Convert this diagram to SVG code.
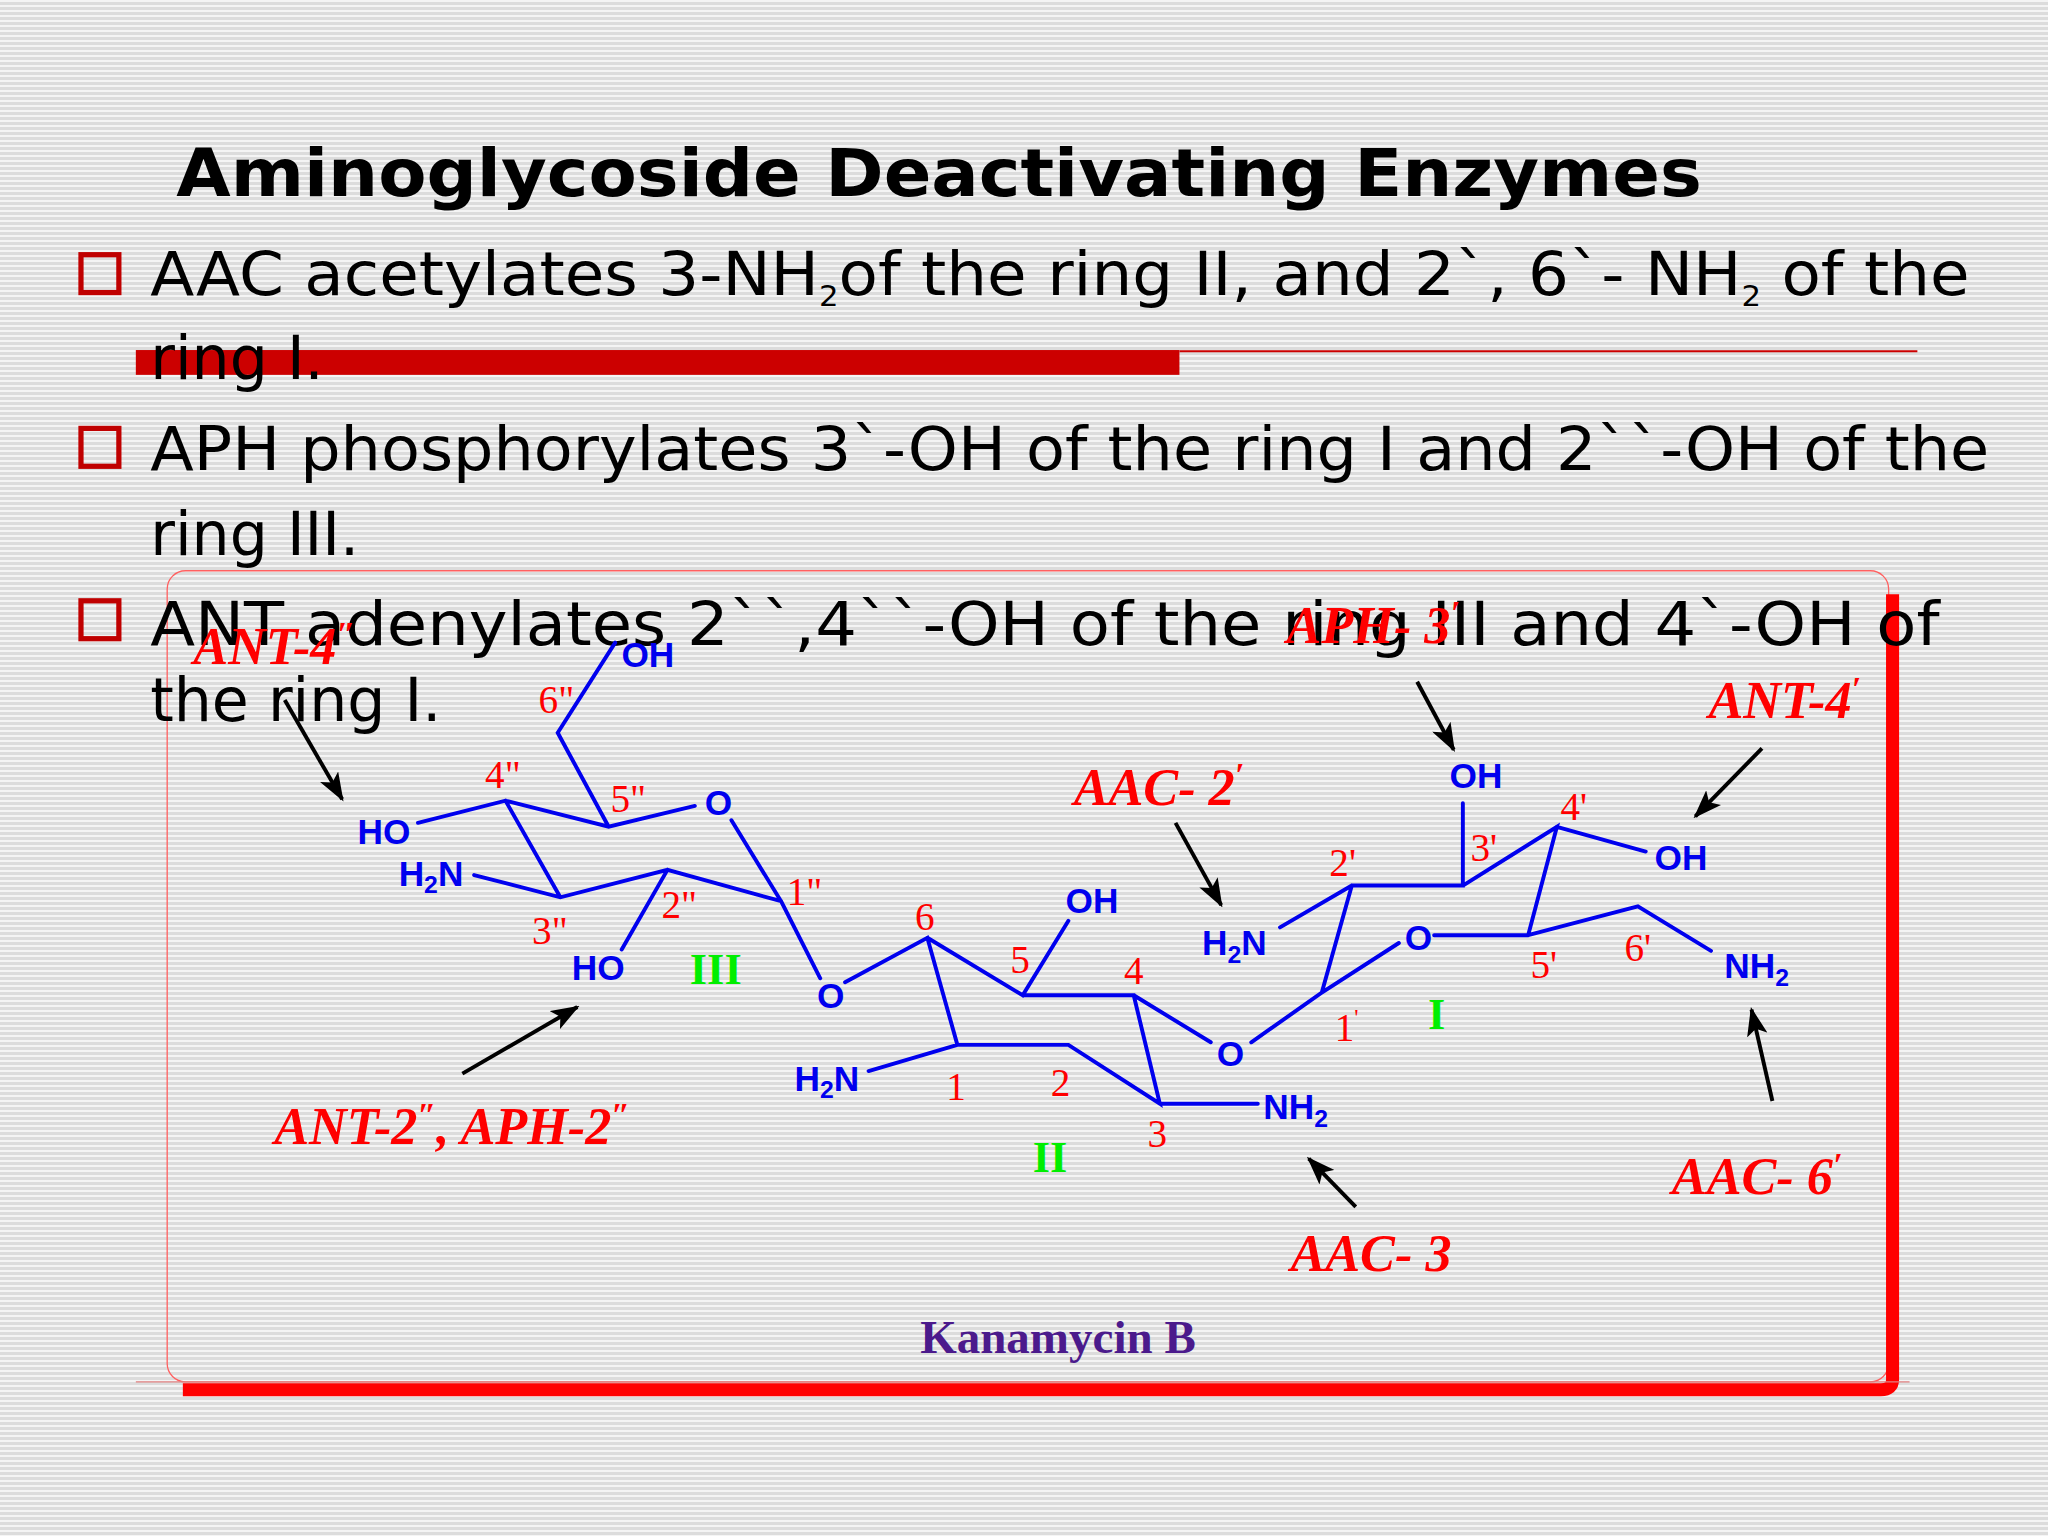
<svg xmlns="http://www.w3.org/2000/svg" width="2048" height="1536" viewBox="0 0 2048 1536">
<defs>
<pattern id="stripes" width="8" height="5" patternUnits="userSpaceOnUse"><rect width="8" height="5" fill="#dcdcdc"/><rect y="0" width="8" height="2" fill="#f4f4f4"/></pattern>
<marker id="ah" markerWidth="10" markerHeight="8" refX="9" refY="4" orient="auto" markerUnits="userSpaceOnUse" viewBox="0 0 10 8"><path d="M0,0 L10,4 L0,8 Z" fill="#000"/></marker>
<marker id="ahb" markerWidth="22" markerHeight="16" refX="20" refY="8" orient="auto" markerUnits="userSpaceOnUse" viewBox="0 0 22 16"><path d="M0,0 L22,8 L0,16 L5,8 Z" fill="#000"/></marker>
</defs>
<style>
.body{font-family:"DejaVu Sans",Verdana,sans-serif;font-size:46px;fill:#000}
.bul{fill:none;stroke:#c00000;stroke-width:4}
.b{stroke:#0000ee;stroke-width:3;fill:none;stroke-linecap:round}
.at{font-family:"Liberation Sans",Arial,sans-serif;font-weight:bold;font-size:27px;fill:#0000ee;text-anchor:middle}
.num{font-family:"Liberation Serif","Times New Roman",serif;font-size:30px;fill:#ff0000;text-anchor:middle}
.ring{font-family:"Liberation Serif",serif;font-weight:bold;font-size:34px;fill:#00ee00;text-anchor:middle}
.enz{font-family:"Liberation Serif",serif;font-weight:bold;font-style:italic;font-size:40px;fill:#ff0000}
.arr{stroke:#000;stroke-width:3;fill:none}
</style>
<rect width="2048" height="1536" fill="url(#stripes)"/>
<g transform="scale(1.30612)">
<g id="title"><text x="135" y="150" font-family="DejaVu Sans,Verdana,sans-serif" font-weight="bold" font-size="50" textLength="1168" lengthAdjust="spacingAndGlyphs">Aminoglycoside Deactivating Enzymes</text></g>
<g id="frame">
<rect x="128" y="437" width="1318" height="621" rx="14" fill="none" stroke="#ff6060" stroke-width="1"/>
<path d="M1449,455 V1056 Q1449,1064 1440,1064 H140" fill="none" stroke="#ff0000" stroke-width="10"/>
<line x1="104" y1="1058" x2="1462" y2="1058" stroke="#e08080" stroke-width="1"/>
<rect x="104" y="268" width="799" height="19" fill="#cc0000"/>
<line x1="903" y1="269" x2="1468" y2="269" stroke="#cc0000" stroke-width="1.5"/>
</g>
<g id="bullets">
<rect class="bul" x="62" y="195" width="29" height="29"/>
<rect class="bul" x="62" y="328" width="29" height="29"/>
<rect class="bul" x="62" y="460" width="29" height="29"/>
<text class="body" x="115" y="226" textLength="1393" lengthAdjust="spacingAndGlyphs">AAC acetylates 3-NH<tspan font-size="22" dy="8">2</tspan><tspan dy="-8">of the ring II, and 2`, 6`- NH</tspan><tspan font-size="22" dy="8">2</tspan><tspan dy="-8"> of the</tspan></text>
<text class="body" x="115" y="290">ring I.</text>
<text class="body" x="115" y="360" textLength="1408" lengthAdjust="spacingAndGlyphs">APH phosphorylates 3`-OH of the ring I and 2``-OH of the</text>
<text class="body" x="115" y="425">ring III.</text>
<text class="body" x="115" y="494" textLength="1370" lengthAdjust="spacingAndGlyphs">ANT adenylates 2``,4``-OH of the ring III and 4`-OH of</text>
<text class="body" x="115" y="552">the ring I.</text>
</g>
<g id="bonds">
<path class="b" d="M320,630 L387,613 L466,633 L532,617 M560,628 L598,690 M387,613 L429,687 M363,670 L429,687 L511,666 L598,690 M511,666 L476,727 M466,633 L427,561 L471,492 M598,690 L628,749 M647,752 L710,718 L733,800 M710,718 L783,762 L818,705 M733,800 L665,820 M733,800 L818,800 L888,845 L868,762 L783,762 M888,845 L963,845 M868,762 L927,798 M958,798 L1012,760 L1035,678 M1012,760 L1071,722 M1098,716 L1170,716 M1035,678 L980,710 M1035,678 L1120,678 L1120,615 M1120,678 L1192,633 L1170,716 M1192,633 L1260,652 M1170,716 L1254,694 L1310,728"/>
</g>
<g id="atoms">
<text class="at" x="294" y="646">HO</text>
<text class="at" x="330" y="678">H<tspan font-size="19" dy="6">2</tspan><tspan dy="-6">N</tspan></text>
<text class="at" x="550" y="624">O</text>
<text class="at" x="496" y="511">OH</text>
<text class="at" x="458" y="750">HO</text>
<text class="at" x="636" y="772">O</text>
<text class="at" x="836" y="699">OH</text>
<text class="at" x="633" y="835">H<tspan font-size="19" dy="6">2</tspan><tspan dy="-6">N</tspan></text>
<text class="at" x="992" y="857">NH<tspan font-size="19" dy="6">2</tspan></text>
<text class="at" x="942" y="816">O</text>
<text class="at" x="945" y="731">H<tspan font-size="19" dy="6">2</tspan><tspan dy="-6">N</tspan></text>
<text class="at" x="1086" y="727">O</text>
<text class="at" x="1130" y="603">OH</text>
<text class="at" x="1287" y="666">OH</text>
<text class="at" x="1345" y="749">NH<tspan font-size="19" dy="6">2</tspan></text>
</g>
<g id="numbers">
<text class="num" x="426" y="546">6"</text>
<text class="num" x="385" y="603">4"</text>
<text class="num" x="481" y="622">5"</text>
<text class="num" x="616" y="693">1"</text>
<text class="num" x="520" y="703">2"</text>
<text class="num" x="421" y="723">3"</text>
<text class="num" x="708" y="712">6</text>
<text class="num" x="781" y="745">5</text>
<text class="num" x="868" y="753">4</text>
<text class="num" x="732" y="842">1</text>
<text class="num" x="812" y="839">2</text>
<text class="num" x="886" y="878">3</text>
<text class="num" x="1028" y="671">2'</text>
<text class="num" x="1136" y="659">3'</text>
<text class="num" x="1205" y="628">4'</text>
<text class="num" x="1182" y="749">5'</text>
<text class="num" x="1254" y="736">6'</text>
<text class="num" x="1031" y="797">1<tspan font-size="18" dy="-12">'</tspan></text>
<text class="ring" x="548" y="753">III</text>
<text class="ring" x="804" y="897">II</text>
<text class="ring" x="1100" y="788">I</text>
</g>
<g id="enzymes">
<text class="enz" x="148" y="508">ANT-4<tspan font-size="26" dy="-14">″</tspan></text>
<text class="enz" x="210" y="876">ANT-2<tspan font-size="26" dy="-14">″</tspan><tspan dy="14">, APH-2</tspan><tspan font-size="26" dy="-14">″</tspan></text>
<text class="enz" x="822" y="616">AAC- 2<tspan font-size="26" dy="-14">′</tspan></text>
<text class="enz" x="985" y="492">APH- 3<tspan font-size="26" dy="-14">′</tspan></text>
<text class="enz" x="1308" y="550">ANT-4<tspan font-size="26" dy="-14">′</tspan></text>
<text class="enz" x="1280" y="914">AAC- 6<tspan font-size="26" dy="-14">′</tspan></text>
<text class="enz" x="988" y="973">AAC- 3</text>
<text x="810" y="1036" text-anchor="middle" font-family="Liberation Serif,serif" font-weight="bold" font-size="36" fill="#4b1a8c">Kanamycin B</text>
</g>
<g id="connectors">
<line class="arr" x1="218" y1="536" x2="262" y2="612" marker-end="url(#ahb)"/>
<line class="arr" x1="354" y1="822" x2="442" y2="771" marker-end="url(#ahb)"/>
<line class="arr" x1="900" y1="630" x2="935" y2="693" marker-end="url(#ahb)"/>
<line class="arr" x1="1085" y1="522" x2="1113" y2="574" marker-end="url(#ahb)"/>
<line class="arr" x1="1349" y1="573" x2="1298" y2="625" marker-end="url(#ahb)"/>
<line class="arr" x1="1357" y1="843" x2="1341" y2="773" marker-end="url(#ahb)"/>
<line class="arr" x1="1038" y1="924" x2="1002" y2="887" marker-end="url(#ahb)"/>
</g>
</g>
</svg>
